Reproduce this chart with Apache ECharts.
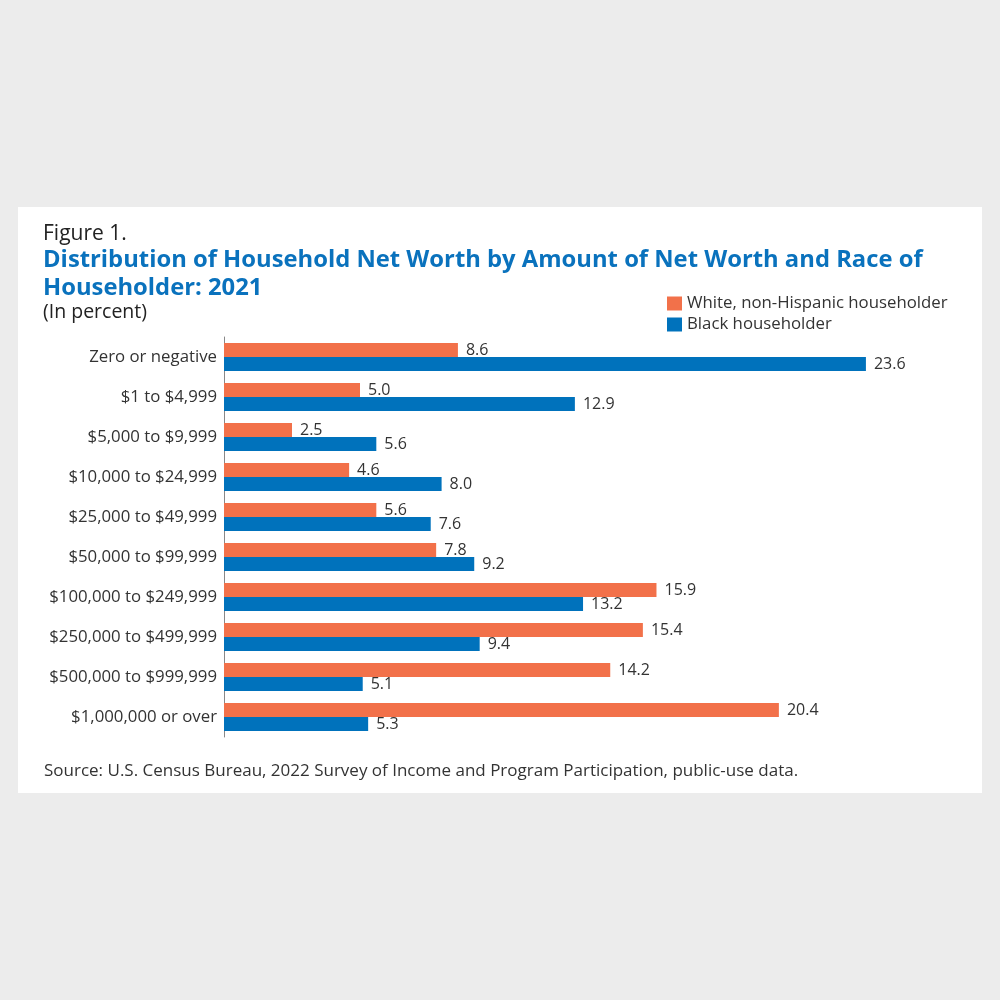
<!DOCTYPE html>
<html>
<head>
<meta charset="utf-8">
<script src="https://cdn.jsdelivr.net/npm/echarts@6/dist/echarts.min.js"></script>
<style>
  html, body { margin: 0; padding: 0; background: #ececec; }
  #chart { width: 1000px; height: 1000px; }
</style>
</head>
<body>
<div id="chart"></div>
<script>
// 数据
var categories = [
    "Zero or negative",
    "$1 to $4,999",
    "$5,000 to $9,999",
    "$10,000 to $24,999",
    "$25,000 to $49,999",
    "$50,000 to $99,999",
    "$100,000 to $249,999",
    "$250,000 to $499,999",
    "$500,000 to $999,999",
    "$1,000,000 or over"
];
var whiteValues = [8.6, 5.0, 2.5, 4.6, 5.6, 7.8, 15.9, 15.4, 14.2, 20.4];
var blackValues = [23.6, 12.9, 5.6, 8.0, 7.6, 9.2, 13.2, 9.4, 5.1, 5.3];
var seriesNames = ["White, non-Hispanic householder", "Black householder"];

(function() {
    var font = "'Open Sans', 'Noto Sans', sans-serif";
    var textColor = "#333333";
    var myChart = echarts.init(document.getElementById("chart"));

    var valueLabel = {
        show: true,
        position: "right",
        distance: 8,
        color: textColor,
        fontFamily: font,
        fontSize: 16,
        formatter: function(p) {
            return p.value.toFixed(1);
        }
    };

    var option = {
        backgroundColor: "#ececec",
        animation: false,
        color: ["#f2714a", "#0072bc"],
        // 白色卡片和标题文字
        graphic: [
            {
                type: "rect",
                z: -1,
                shape: { x: 18, y: 207, width: 964, height: 586 },
                style: { fill: "#ffffff" }
            },
            {
                type: "text",
                left: 43,
                top: 224,
                style: { text: "Figure 1.", fill: "#222222", font: "21px " + font }
            },
            {
                type: "text",
                left: 43,
                top: 246,
                style: {
                    text: "Distribution of Household Net Worth by Amount of Net Worth and Race of\nHouseholder: 2021",
                    fill: "#0a72bd",
                    font: "bold 23.8px " + font,
                    lineHeight: 28
                }
            },
            {
                type: "text",
                left: 43,
                top: 302,
                style: { text: "(In percent)", fill: "#222222", font: "19.5px " + font }
            },
            {
                type: "text",
                left: 44,
                top: 763,
                style: {
                    text: "Source: U.S. Census Bureau, 2022 Survey of Income and Program Participation, public-use data.",
                    fill: "#333333",
                    font: "17px " + font
                }
            }
        ],
        legend: {
            orient: "vertical",
            left: 662,
            top: 290,
            itemWidth: 15,
            itemHeight: 14,
            itemGap: 4,
            icon: "rect",
            textStyle: { color: textColor, fontFamily: font, fontSize: 16.8 },
            data: seriesNames
        },
        grid: {
            left: 224,
            top: 337,
            width: 680,
            height: 400
        },
        xAxis: {
            type: "value",
            min: 0,
            max: 25,
            show: false
        },
        yAxis: {
            type: "category",
            inverse: true,
            data: categories,
            axisTick: { show: false },
            axisLine: { lineStyle: { color: "#888888", width: 1 } },
            axisLabel: {
                color: textColor,
                fontFamily: font,
                fontSize: 16.8,
                margin: 7
            }
        },
        series: [
            {
                name: seriesNames[0],
                type: "bar",
                barWidth: 14,
                barGap: "0%",
                data: whiteValues,
                label: valueLabel
            },
            {
                name: seriesNames[1],
                type: "bar",
                barWidth: 14,
                barGap: "0%",
                data: blackValues,
                label: valueLabel
            }
        ]
    };

    myChart.setOption(option);
})();
</script>
</body>
</html>
